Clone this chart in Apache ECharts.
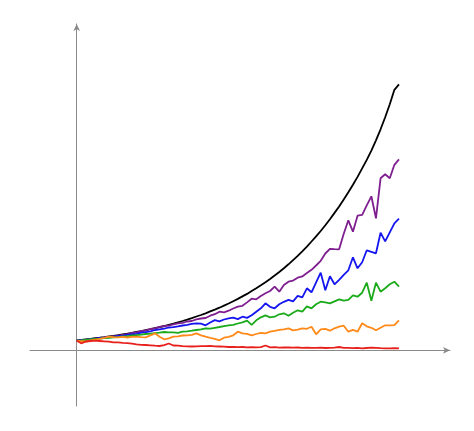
<!DOCTYPE html>
<html>
<head>
<meta charset="utf-8">
<script src="https://cdn.jsdelivr.net/npm/echarts@6/dist/echarts.min.js"></script>
<style>
html,body{margin:0;padding:0;background:#fff;}
#chart{width:474px;height:431px;}
</style>
</head>
<body>
<div id="chart"></div>
<script>
// time steps
var steps = [];
for (var i = 0; i <= 70; i++) steps.push(i);

var black = [10.0,10.5,11.0,11.5,12.1,12.6,13.2,13.9,14.5,15.2,16.0,16.7,17.5,18.4,19.2,20.2,21.1,22.2,23.2,24.3,25.5,26.7,28.0,29.3,30.7,32.2,33.8,35.3,37.0,38.9,40.7,42.6,44.7,46.8,49.1,51.4,53.9,56.4,59.2,62.0,65.0,68.1,71.3,74.8,78.3,82.1,86.0,90.2,94.4,99.0,103.7,108.8,113.9,119.3,125.1,131.0,137.4,143.8,150.9,158.0,165.6,173.4,181.9,190.4,199.7,210.0,221.0,233.0,246.0,260.5,266.0];
var purple = [9.6,10.0,10.6,11.0,11.6,12.0,12.9,13.3,13.9,14.6,15.4,16.1,17.3,17.9,19.2,19.8,21.3,22.0,23.5,24.2,24.6,25.9,27.0,27.4,28.8,29.3,30.9,31.8,32.3,34.6,36.1,38.6,38.0,39.6,41.8,43.6,44.5,47.9,51.6,51.0,54.2,57.0,59.3,63.6,58.6,65.4,68.6,69.7,72.6,73.9,77.2,80.5,84.8,89.5,96.8,101.5,101.2,101.0,116.5,130.0,118.6,134.6,135.5,145.0,154.0,132.0,172.0,176.0,172.0,185.5,191.0];
var blue = [9.6,10.1,10.4,11.2,11.5,12.3,12.6,13.2,13.5,14.3,14.6,15.4,16.0,16.5,17.6,18.2,19.0,20.3,21.0,21.6,22.8,23.1,23.9,24.8,25.5,26.4,27.0,26.6,25.0,27.8,30.2,29.0,30.8,32.0,32.6,31.2,33.6,32.4,35.0,38.5,42.0,47.0,43.5,42.0,46.0,48.5,50.5,49.0,54.5,53.0,62.0,58.0,68.0,77.6,60.0,74.0,66.0,70.5,75.5,80.0,93.0,82.0,88.0,100.0,98.5,97.0,117.6,109.0,118.0,127.0,131.6];
var green = [9.6,9.9,10.5,10.9,11.3,11.6,12.2,12.5,13.0,13.2,13.8,14.0,14.8,15.1,15.6,16.3,16.6,17.2,17.6,18.3,17.9,18.0,17.5,18.6,19.0,19.6,20.3,21.0,22.0,21.6,22.5,23.3,24.2,25.0,25.4,26.8,28.0,29.6,25.5,30.0,33.0,35.0,33.0,33.6,36.0,37.0,34.5,37.5,40.0,38.6,44.0,42.0,46.0,48.6,48.0,47.0,49.0,51.0,49.6,50.5,55.0,53.6,57.6,67.6,49.6,67.6,58.6,62.0,66.0,68.6,63.6];
var orange = [9.6,9.2,8.8,9.8,10.6,11.5,12.4,13.6,13.2,13.0,13.4,12.8,13.5,13.6,13.1,13.0,15.0,17.0,13.5,11.0,12.0,13.6,14.0,14.8,15.0,15.5,17.0,15.0,13.6,12.5,11.5,10.0,12.6,13.4,15.0,18.6,17.0,16.5,15.0,16.3,17.5,17.0,18.6,19.5,20.4,21.0,22.0,20.0,20.6,22.0,21.5,23.6,16.0,21.0,21.5,19.6,22.0,23.6,24.6,18.6,20.5,18.6,27.0,24.0,22.5,20.0,22.5,25.0,25.0,25.2,30.0];
var red = [9.6,7.0,8.8,9.3,9.6,9.3,9.0,8.6,8.0,7.9,7.5,7.2,6.6,6.0,5.5,5.3,5.0,4.6,4.3,5.2,6.8,4.8,4.6,4.2,3.9,3.8,4.0,4.2,4.1,4.4,4.0,3.8,3.6,3.3,3.5,3.1,3.3,3.0,3.1,2.9,3.2,4.8,3.0,3.2,2.6,2.8,3.0,2.6,2.8,2.5,2.7,2.5,2.4,2.6,2.3,2.5,2.7,3.3,2.5,2.4,2.2,2.4,2.0,2.3,2.6,2.4,2.1,1.9,2.0,2.1,2.0];

var seriesDefs = [
  {name:'black', data:black, color:'#000000'},
  {name:'purple', data:purple, color:'#7f1f8f'},
  {name:'blue', data:blue, color:'#1515f0'},
  {name:'green', data:green, color:'#1aaa1a'},
  {name:'orange', data:orange, color:'#ff8a1a'},
  {name:'red', data:red, color:'#e8201c'}
];

function pairs(arr){ return arr.map(function(v,i){ return [steps[i], v]; }); }

var chart = echarts.init(document.getElementById('chart'), null, {renderer:'canvas'});
chart.setOption({
  animation:false,
  backgroundColor:'#ffffff',
  grid:{left:30, right:24, top:24, bottom:25},
  xAxis:{
    type:'value', min:-10.14, max:81.08,
    axisLine:{show:true, onZero:true, symbol:['none','arrow'], symbolSize:[5,7], lineStyle:{color:'#8a8a8a', width:1}},
    axisTick:{show:false}, axisLabel:{show:false}, splitLine:{show:false}
  },
  yAxis:{
    type:'value', min:-55.7, max:326.3,
    axisLine:{show:true, onZero:true, symbol:['none','arrow'], symbolSize:[5,7], lineStyle:{color:'#8a8a8a', width:1}},
    axisTick:{show:false}, axisLabel:{show:false}, splitLine:{show:false}
  },
  series: seriesDefs.map(function(s){
    return {
      name:s.name, type:'line', data:pairs(s.data), showSymbol:false, symbol:'none',
      lineStyle:{color:s.color, width:1.8}, itemStyle:{color:s.color}
    };
  })
});
</script>
</body>
</html>
